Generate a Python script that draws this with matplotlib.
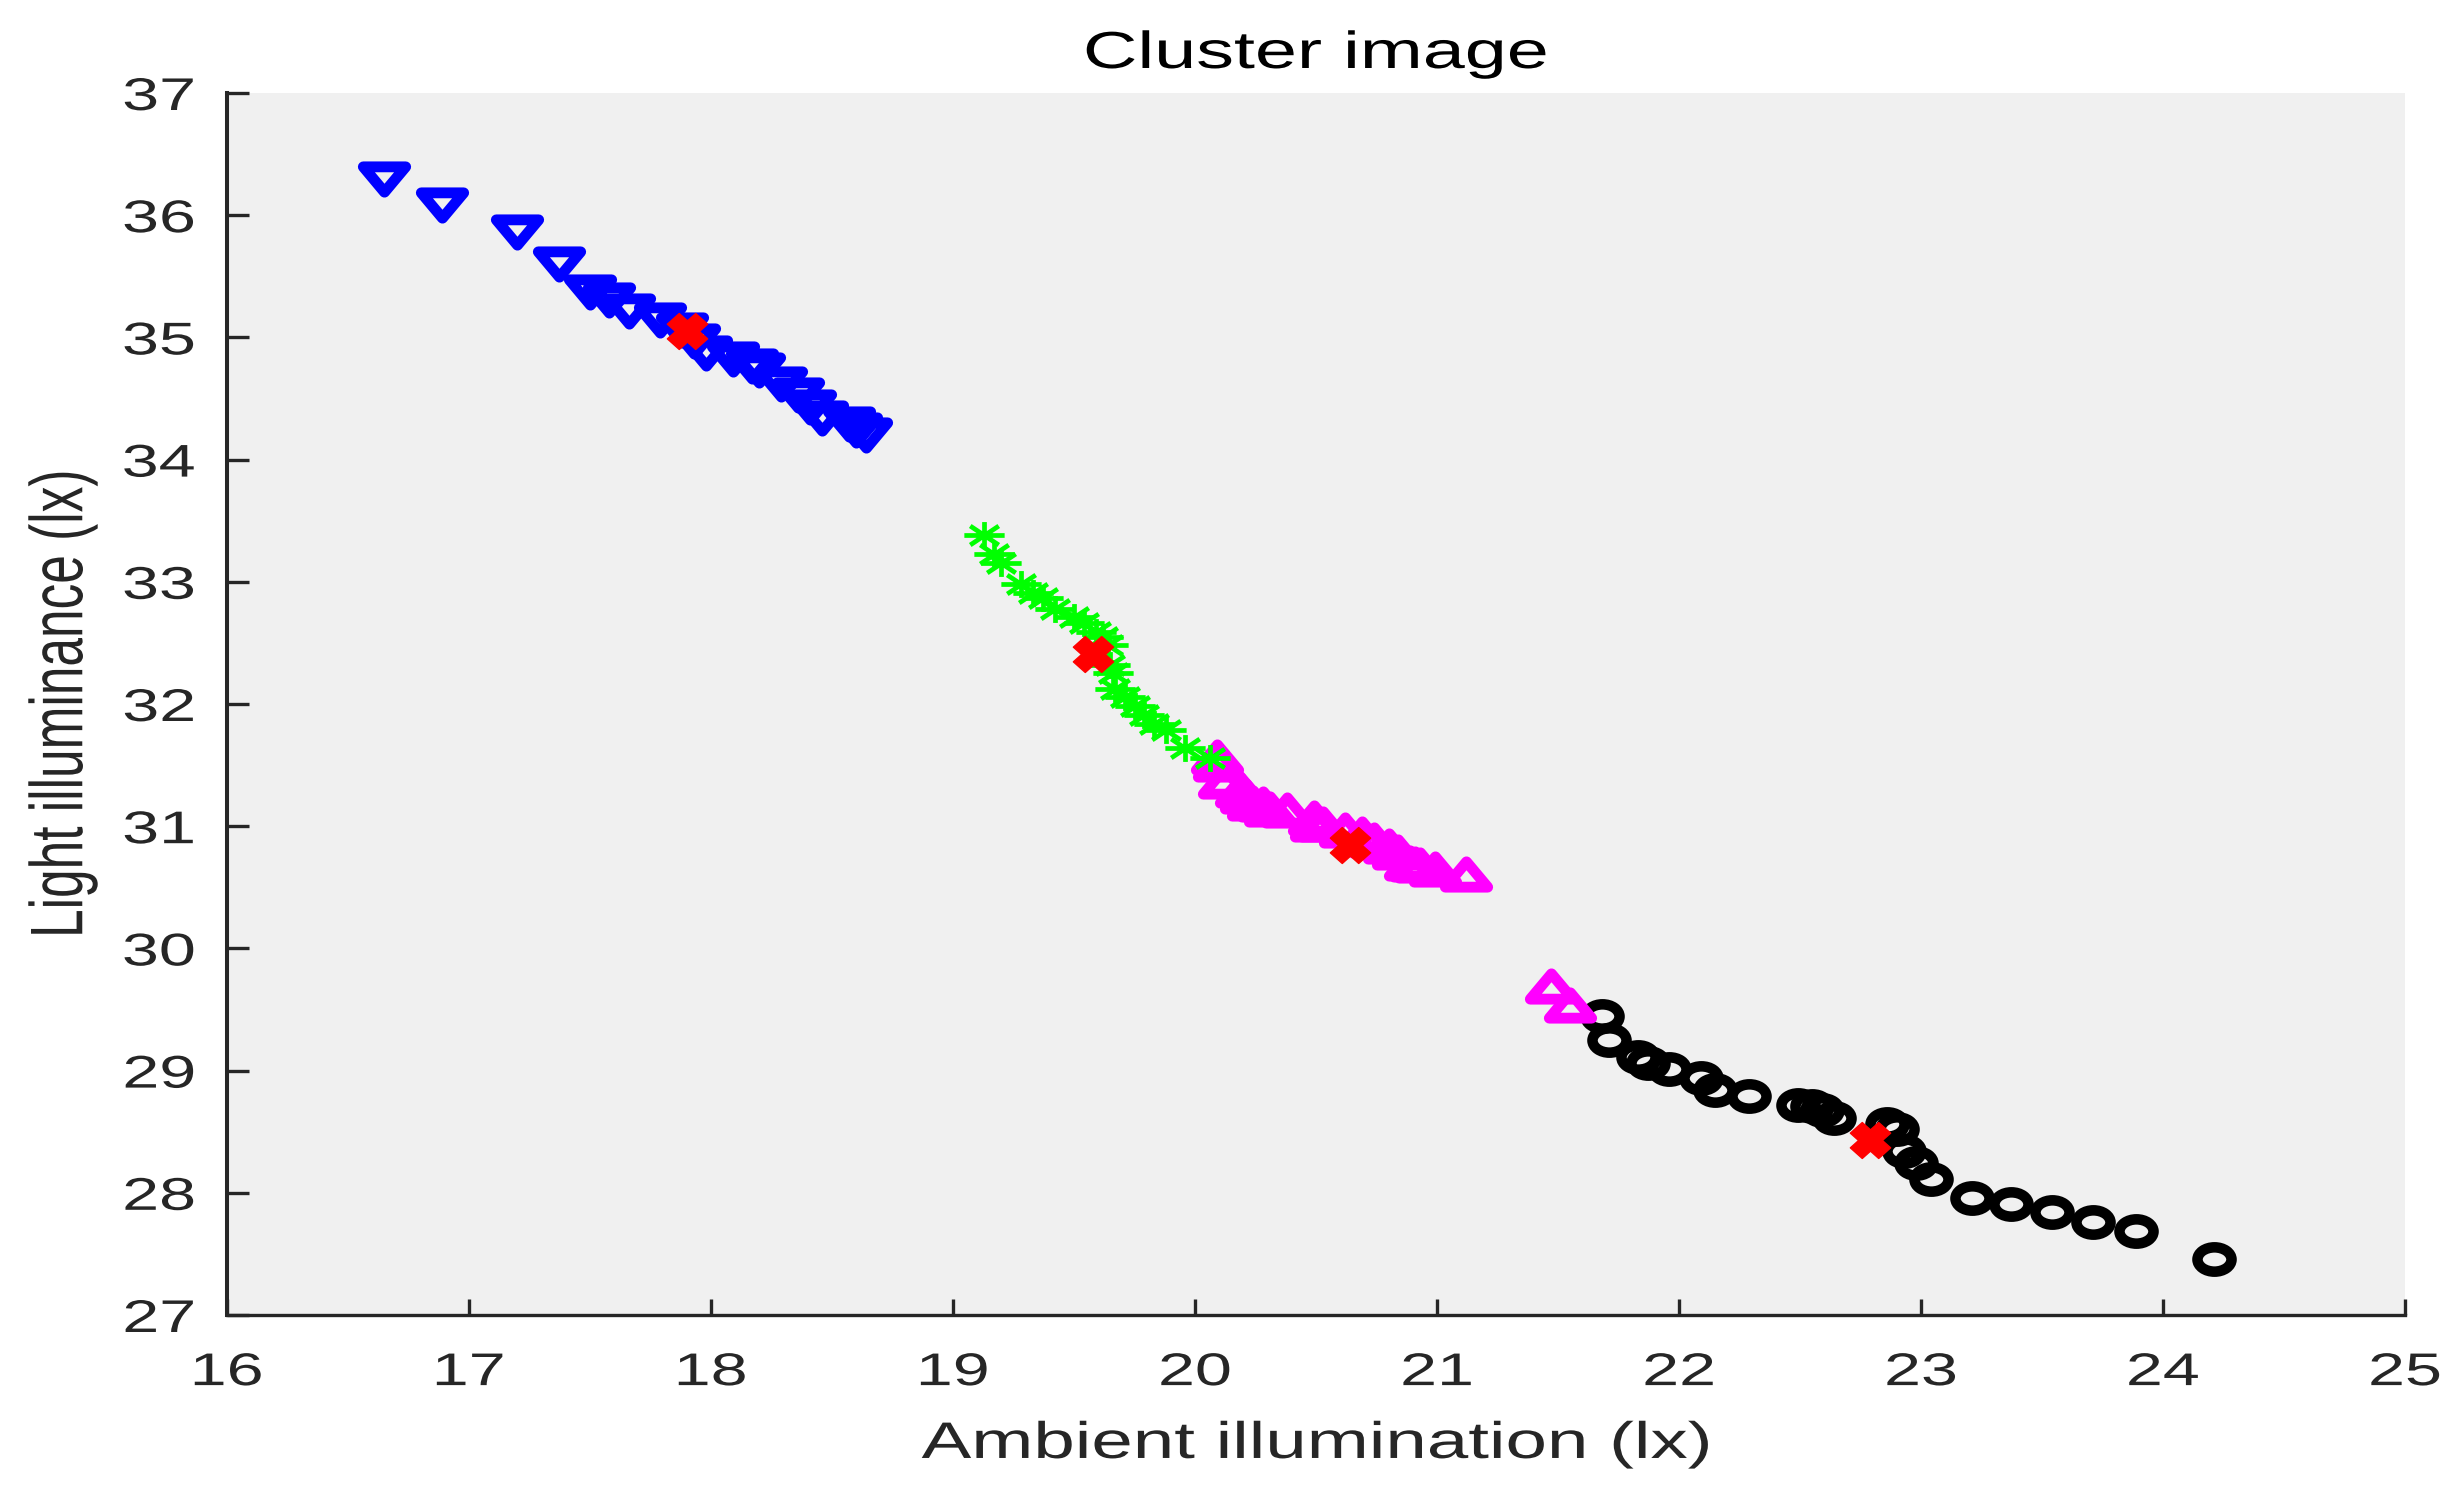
import matplotlib
matplotlib.use("Agg")
import matplotlib.pyplot as plt
from matplotlib.path import Path
from matplotlib.markers import MarkerStyle
from matplotlib.transforms import Affine2D
from matplotlib.patheffects import AbstractPathEffect

plt.rcParams['font.family'] = ['Liberation Sans', 'DejaVu Sans']

# cluster 1 (black circles)
black_x = [21.68, 21.71, 21.83, 21.87, 21.96, 22.09, 22.15, 22.29, 22.49, 22.55, 22.59,
           22.64, 22.86, 22.90, 22.93, 22.98, 23.04, 23.21, 23.37, 23.54, 23.71, 23.89, 24.21]
black_y = [29.45, 29.25, 29.11, 29.06, 29.01, 28.94, 28.84, 28.79, 28.72, 28.71, 28.68,
           28.61, 28.56, 28.52, 28.34, 28.24, 28.11, 27.96, 27.91, 27.84, 27.76, 27.69, 27.46]

# cluster 2 (magenta up-triangles)
mag_x = [20.09, 20.10, 20.12, 20.19, 20.21, 20.24, 20.28, 20.31, 20.38, 20.49, 20.50, 20.53,
         20.62, 20.69, 20.74, 20.80, 20.84, 20.89, 20.91, 20.93, 20.99, 21.12, 21.47, 21.55]
mag_y = [31.57, 31.51, 31.37, 31.30, 31.25, 31.19, 31.18, 31.14, 31.13, 31.07, 31.02, 31.02,
         30.97, 30.94, 30.89, 30.84, 30.79, 30.70, 30.69, 30.68, 30.65, 30.61, 29.69, 29.54]

# cluster 3 (green asterisks)
green_x = [19.13, 19.17, 19.20, 19.28, 19.33, 19.37, 19.42, 19.50, 19.54, 19.59, 19.62,
           19.64, 19.65, 19.66, 19.67, 19.71, 19.75, 19.79, 19.83, 19.88, 19.96, 20.06]
green_y = [33.38, 33.23, 33.15, 32.98, 32.91, 32.87, 32.78, 32.71, 32.66, 32.59, 32.55,
           32.48, 32.32, 32.25, 32.12, 32.06, 31.98, 31.91, 31.84, 31.79, 31.64, 31.56]

# cluster 4 (blue down-triangles)
blue_x = [16.65, 16.89, 17.20, 17.37, 17.50, 17.58, 17.66, 17.79, 17.88, 17.93, 17.98,
          18.09, 18.17, 18.20, 18.29, 18.36, 18.41, 18.46, 18.57, 18.60, 18.64]
blue_y = [36.30, 36.08, 35.86, 35.60, 35.37, 35.31, 35.22, 35.14, 35.06, 34.97, 34.87,
          34.82, 34.77, 34.73, 34.62, 34.53, 34.43, 34.34, 34.29, 34.24, 34.20]

# cluster centres
centre_x = [17.90, 19.58, 20.64, 22.79]
centre_y = [35.05, 32.41, 30.85, 28.43]

x_ticks = list(range(16, 26))
y_ticks = list(range(27, 38))

TEXT_SX = 1.45   # the source image is stretched sideways
MARK_SX = 1.4


class StretchX(AbstractPathEffect):
    """draw text glyphs widened horizontally around an anchor"""
    def __init__(self, sx=TEXT_SX, anchor='center'):
        super().__init__()
        self.sx = sx
        self.anchor = anchor

    def draw_path(self, renderer, gc, tpath, affine, rgbFace=None):
        ext = tpath.get_extents(affine)
        if self.anchor == 'right':
            cx = ext.x1
        elif self.anchor == 'left':
            cx = ext.x0
        else:
            cx = 0.5 * (ext.x0 + ext.x1)
        t = affine + Affine2D().translate(-cx, 0).scale(self.sx, 1).translate(cx, 0)
        renderer.draw_path(gc, tpath, t, rgbFace)


# markers, stretched like the source
ellipse = MarkerStyle(Path.unit_circle().transformed(Affine2D().scale(MARK_SX, 1)))
tri_down = MarkerStyle(Path([(-1.45, 0.866), (1.45, 0.866), (0, -0.866), (-1.45, 0.866)],
                            [Path.MOVETO, Path.LINETO, Path.LINETO, Path.CLOSEPOLY]),
                       joinstyle='miter')
tri_up = MarkerStyle(Path([(-1.45, -0.866), (1.45, -0.866), (0, 0.866), (-1.45, -0.866)],
                          [Path.MOVETO, Path.LINETO, Path.LINETO, Path.CLOSEPOLY]),
                     joinstyle='miter')
d = 0.7071
star = MarkerStyle(Path([(-1.5, 0), (1.5, 0), (0, -1), (0, 1),
                         (-1.5 * d, -d), (1.5 * d, d), (-1.5 * d, d), (1.5 * d, -d)],
                        [Path.MOVETO, Path.LINETO] * 4), capstyle='butt')
L, t = 1.0, 0.42
r2 = 2 ** 0.5
xv = [(t * r2, 0), ((L + t) / r2, (L - t) / r2), ((L - t) / r2, (L + t) / r2), (0, t * r2),
      ((-L + t) / r2, (L + t) / r2), ((-L - t) / r2, (L - t) / r2), (-t * r2, 0),
      ((-L - t) / r2, (-L + t) / r2), ((-L + t) / r2, (-L - t) / r2), (0, -t * r2),
      ((L - t) / r2, (-L - t) / r2), ((L + t) / r2, (-L + t) / r2), (t * r2, 0)]
xv = [(1.12 * a, b) for a, b in xv]
fat_x = MarkerStyle(Path(xv, [Path.MOVETO] + [Path.LINETO] * 11 + [Path.CLOSEPOLY]))

fig = plt.figure(figsize=(24.53, 14.97), dpi=100)
ax = fig.add_axes([227 / 2453, 182 / 1497, 2178 / 2453, 1222 / 1497])
ax.set_facecolor('#f0f0f0')

ax.plot(black_x, black_y, ls='none', marker=ellipse, ms=24.5, mfc='none', mec='k', mew=7.6)
ax.plot(mag_x, mag_y, ls='none', marker=tri_up, ms=30.5, mfc='none', mec='#ff00ff', mew=7.8)
ax.plot(green_x, green_y, ls='none', marker=star, ms=29, color='#00ff00', mew=3.4)
ax.plot(blue_x, blue_y, ls='none', marker=tri_down, ms=30.5, mfc='none', mec='#0000ff', mew=7.8)
ax.plot(centre_x, centre_y, ls='none', marker=fat_x, ms=29, mfc='#ff0000', mec='#ff0000', mew=1)

ax.set_xlim(16, 25)
ax.set_ylim(27, 37)
ax.set_xticks(x_ticks)
ax.set_yticks(y_ticks)

for side in ['top', 'right']:
    ax.spines[side].set_visible(False)
ax.spines['bottom'].set_linewidth(2.4)
ax.spines['left'].set_linewidth(2.9)
ax.spines['bottom'].set_color('#262626')
ax.spines['left'].set_color('#262626')

ax.tick_params(axis='x', direction='in', length=11.5, width=2.4, pad=26,
               labelsize=33, colors='#262626')
ax.tick_params(axis='y', direction='in', length=16, width=2.4, pad=23,
               labelsize=33, colors='#262626')

for lab in ax.get_xticklabels():
    lab.set_path_effects([StretchX(anchor='center')])
for lab in ax.get_yticklabels():
    lab.set_path_effects([StretchX(anchor='right')])

ttl = ax.set_title('Cluster image', fontsize=37.5, color='k', pad=18)
ttl.set_path_effects([StretchX(anchor='center')])

xl = ax.set_xlabel('Ambient illumination (lx)', fontsize=37, color='#262626')
ax.xaxis.set_label_coords(0.5, -0.0859)
xl.set_path_effects([StretchX(anchor='center')])

yl = ax.set_ylabel('Light illuminance (lx)', fontsize=37, color='#262626')
ax.yaxis.set_label_coords(-0.0592, 0.5)
yl.set_path_effects([StretchX(anchor='right')])

fig.savefig('out.png', dpi=100)
